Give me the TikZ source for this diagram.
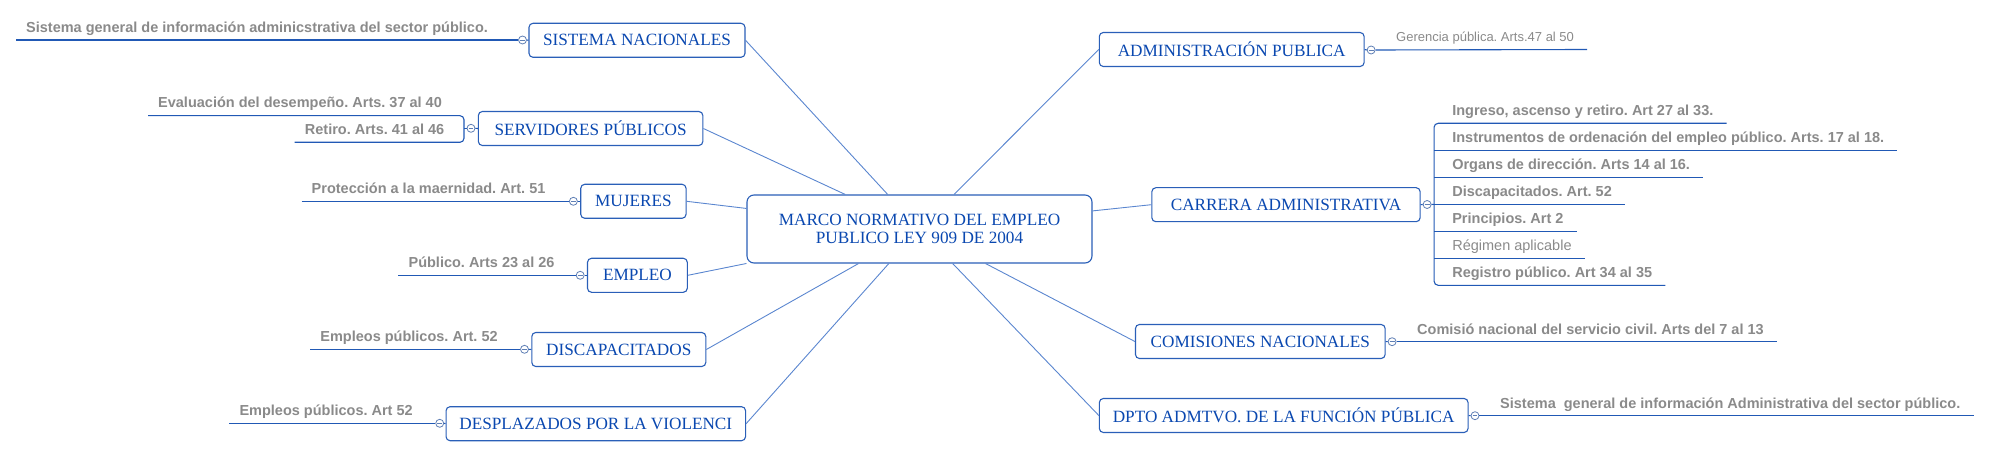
\documentclass[tikz,border=0pt]{standalone}
\usepackage{fontspec}
\setmainfont{Liberation Serif}
\newfontfamily\leaffont{Liberation Sans}
\definecolor{boxblue}{HTML}{2A5FB8}
\definecolor{txtblue}{HTML}{0A48B0}
\definecolor{linkblue}{HTML}{5A86CF}
\definecolor{leafgrey}{HTML}{8A8A8A}
\definecolor{ulblue}{HTML}{2159B5}
\definecolor{circgrey}{HTML}{5F7FB5}
\frenchspacing
\begin{document}
\begin{tikzpicture}[x=1pt,y=-1pt,
  topic/.style={draw=boxblue, line width=1.1pt, fill=white, rounded corners=4pt,
    minimum height=34pt, inner sep=0pt, text=txtblue,
    font=\fontsize{17.2}{18}\selectfont},
  maintopic/.style={topic, rounded corners=7pt, minimum width=345pt, minimum height=68pt,
    align=center},
  leaf/.style={text=leafgrey, font=\leaffont\bfseries\fontsize{14.5}{16}\selectfont,
    text depth=0pt, inner ysep=7.5pt, inner xsep=10pt},
  leafr/.style={leaf, inner xsep=13pt},
  leafc/.style={leaf, inner xsep=18pt},
  thin/.style={font=\leaffont\fontsize{13}{15}\selectfont},
  thinb/.style={font=\leaffont\fontsize{14.5}{16}\selectfont},
  uline/.style={draw=ulblue, line width=1.1pt},
  link/.style={draw=linkblue, line width=0.9pt},
  knob/.style={circle, draw=circgrey, fill=white, line width=0.8pt, minimum size=8pt, inner sep=0pt,
    path picture={\draw[circgrey, line width=0.6pt]
      ([xshift=1.6pt]path picture bounding box.west) -- ([xshift=-1.6pt]path picture bounding box.east);}}
]
\useasboundingbox (0,0) rectangle (1995,457);

% main
\node[maintopic] (main) at (919.5,229) {\lineskip=0pt\baselineskip=18pt MARCO NORMATIVO DEL EMPLEO\\PUBLICO LEY 909 DE 2004};

% left topics
\node[topic, minimum width=216pt] (sis) at (637,40.3) {SISTEMA NACIONALES};
\node[topic, minimum width=224.5pt] (ser) at (590.6,128.5) {SERVIDORES PÚBLICOS};
\node[topic, minimum width=105.3pt] (muj) at (633.4,201.3) {MUJERES};
\node[topic, minimum width=99.8pt] (emp) at (637.4,275.3) {EMPLEO};
\node[topic, minimum width=174pt] (dis) at (618.8,349.5) {DISCAPACITADOS};
\node[topic, minimum width=299.5pt] (des) at (595.8,423.7) {DESPLAZADOS POR LA VIOLENCI};

% right topics
\node[topic, minimum width=264.8pt] (adm) at (1231.7,49.5) {ADMINISTRACIÓN PUBLICA};
\node[topic, minimum width=268.3pt] (car) at (1286,204.7) {CARRERA ADMINISTRATIVA};
\node[topic, minimum width=249.7pt] (com) at (1260.3,341.5) {COMISIONES NACIONALES};
\node[topic, minimum width=368.7pt] (dpt) at (1283.7,415.5) {DPTO ADMTVO. DE LA FUNCIÓN PÚBLICA};

% links to main
\foreach \n in {sis,ser,muj,emp,dis,des} \draw[link] (\n.east) -- (main);
\foreach \n in {adm,car,com,dpt} \draw[link] (\n.west) -- (main);

% knobs
\node[knob] (ksis) at (522.5,40) {};
\node[knob] (kser) at (471,128.3) {};
\node[knob] (kmuj) at (573.4,201.3) {};
\node[knob] (kemp) at (580.2,275.3) {};
\node[knob] (kdis) at (524.5,349.3) {};
\node[knob] (kdes) at (439.7,423.3) {};
\node[knob] (kadm) at (1371.1,50) {};
\node[knob] (kcar) at (1427.1,204.5) {};
\node[knob] (kcom) at (1392.1,341.7) {};
\node[knob] (kdpt) at (1475,415.7) {};

\foreach \n in {sis,ser,muj,emp,dis,des} \draw[uline] (k\n.east) -- (\n.west);
\foreach \n in {adm,car,com,dpt} \draw[uline] (k\n.west) -- (\n.east);

% left leaves
\node[leaf, anchor=south west] (lsis) at (16,40) {Sistema general de información adminicstrativa del sector público.};
\draw[uline] (lsis.south west) -- (ksis.west);

\node[leaf, anchor=south west] (lev) at (148,115.7) {Evaluación del desempeño. Arts. 37 al 40};
\node[leaf, anchor=south west] (lret) at (294.7,142.3) {Retiro. Arts. 41 al 46};
\coordinate (bs1) at (464,115.7);
\coordinate (bs2) at (464,142.3);
\coordinate (bsm) at (464,128.3);
\draw[uline, rounded corners=4pt] (lev.south west) -- (bs1) -- (bs2) -- (lret.south west);
\draw[uline] (bsm) -- (kser.west);

\node[leaf, anchor=south west] (lmuj) at (301.5,201.3) {Protección a la maernidad. Art. 51};
\draw[uline] (lmuj.south west) -- (kmuj.west);
\node[leaf, anchor=south west] (lemp) at (398.4,275.3) {Público. Arts 23 al 26};
\draw[uline] (lemp.south west) -- (kemp.west);
\node[leaf, anchor=south west] (ldis) at (310.2,349.3) {Empleos públicos. Art. 52};
\draw[uline] (ldis.south west) -- (kdis.west);
\node[leaf, anchor=south west] (ldes) at (229.3,423.3) {Empleos públicos. Art 52};
\draw[uline] (ldes.south west) -- (kdes.west);

% right leaves
\node[leafr, thin, anchor=south west] (ladm) at (1383,49.5) {Gerencia pública. Arts.47 al 50};
\draw[uline] (kadm.east) -- (ladm.south east);
\node[leafr, anchor=south west] (lcom) at (1404,341.7) {Comisió nacional del servicio civil. Arts del 7 al 13};
\draw[uline] (kcom.east) -- (lcom.south east);
\node[leafr, anchor=south west] (ldpt) at (1487,415.7) {Sistema \ general de información Administrativa del sector público.};
\draw[uline] (kdpt.east) -- (ldpt.south east);

% carrera bracket
\node[leafc, anchor=south west] (c1) at (1434.1,123.3) {Ingreso, ascenso y retiro. Art 27 al 33.};
\node[leafc, anchor=south west] (c2) at (1434.1,150.3) {Instrumentos de ordenación del empleo público. Arts. 17 al 18.};
\node[leafc, anchor=south west] (c3) at (1434.1,177.3) {Organs de dirección. Arts 14 al 16.};
\node[leafc, anchor=south west] (c4) at (1434.1,204.3) {Discapacitados. Art. 52};
\node[leafc, anchor=south west] (c5) at (1434.1,231.3) {Principios. Art 2};
\node[leafc, thinb, anchor=south west] (c6) at (1434.1,258.3) {Régimen aplicable};
\node[leafc, anchor=south west] (c7) at (1434.1,285.3) {Registro público. Art 34 al 35};
\draw[uline, rounded corners=4pt] ([xshift=-5pt]c1.south east) -- (c1.south west) -- (c7.south west) -- ([xshift=-5pt]c7.south east);
\foreach \i in {2,...,6} \draw[uline] (c\i.south west) -- ([xshift=-5pt]c\i.south east);
\draw[uline] (kcar.east) -- (c4.south west);
\end{tikzpicture}
\end{document}
